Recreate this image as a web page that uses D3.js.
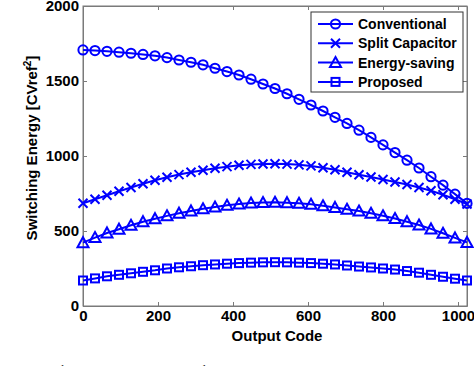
<!DOCTYPE html>
<html><head><meta charset="utf-8">
<script src="https://cdn.jsdelivr.net/npm/d3@7"></script>
<style>body{margin:0;background:#fff}svg{display:block}</style>
</head><body>
<svg id="c" width="474" height="366"></svg>
<script>
const codes = d3.range(0, 1025, 32);
const conventional = [1707,1703,1698,1692,1685,1677,1668,1656,1640,1625,1608,1585,1563,1540,1512,1480,1450,1415,1378,1340,1300,1258,1217,1172,1124,1074,1023,972,920,862,806,746,684];
const splitCap = [685,712,738,765,790,815,838,858,876,892,905,918,929,938,944,947,948,946,941,934,922,908,892,875,860,843,827,810,790,768,742,712,680];
const energySaving = [422,456,487,512,538,562,582,601,619,634,648,660,671,680,686,690,691,689,685,678,668,657,645,633,618,601,583,562,540,514,485,454,424];
const proposed = [170,184,198,208,218,228,238,250,258,265,272,277,282,286,289,291,292,291,289,286,282,277,270,263,257,250,243,233,222,208,195,182,170];
const seriesNames = ["Conventional","Split Capacitor","Energy-saving","Proposed"];
const seriesMarkers = ["circle","x","triangle","square"];
const xTicks = [0,200,400,600,800,1000];
const yTicks = [0,500,1000,1500,2000];
const allSeries = [conventional, splitCap, energySaving, proposed];

const svg = d3.select("#c");
const L = 83, R = 467, T = 6, B = 306;
const x = d3.scaleLinear().domain([0,1024]).range([L,R]);
const y = d3.scaleLinear().domain([0,2000]).range([B,T]);
const blue = "#0000ff";
const axisCol = "#7a7a7a";
const font = "Arial, 'Liberation Sans', sans-serif";

// box
svg.append("rect").attr("x",L).attr("y",T).attr("width",R-L).attr("height",B-T)
  .attr("fill","none").attr("stroke",axisCol).attr("stroke-width",1);

// axes
const fmt = d3.format("d");
const xa = svg.append("g").attr("transform",`translate(0,${B})`)
  .call(d3.axisBottom(x).tickValues(xTicks).tickFormat(fmt).tickSizeInner(-4).tickSizeOuter(0).tickPadding(6));
const ya = svg.append("g").attr("transform",`translate(${L},0)`)
  .call(d3.axisLeft(y).tickValues(yTicks).tickFormat(fmt).tickSizeInner(-4).tickSizeOuter(0).tickPadding(4));
const xt = svg.append("g").attr("transform",`translate(0,${T})`)
  .call(d3.axisTop(x).tickValues(xTicks).tickSizeInner(-4).tickSizeOuter(0).tickFormat(""));
const yr = svg.append("g").attr("transform",`translate(${R},0)`)
  .call(d3.axisRight(y).tickValues(yTicks).tickSizeInner(-4).tickSizeOuter(0).tickFormat(""));
[xa,ya,xt,yr].forEach(g=>{
  g.select(".domain").attr("stroke",axisCol);
  g.selectAll(".tick line").attr("stroke",axisCol);
  g.selectAll("text").attr("fill","#000").style("font-family",font).style("font-weight","bold").style("font-size","15px");
});
xa.selectAll("text").attr("dy","0.6em");
ya.selectAll("text").attr("dy","0.3em");

// marker drawer
function drawMarker(g, type, cx, cy) {
  const s = {fill:"none", stroke:blue, "stroke-width":2};
  let el;
  if (type==="circle") el = g.append("circle").attr("cx",cx).attr("cy",cy).attr("r",4.6);
  else if (type==="square") el = g.append("rect").attr("x",cx-4).attr("y",cy-4).attr("width",8).attr("height",8);
  else if (type==="triangle") el = g.append("path").attr("d",`M${cx},${cy-5.5}L${cx+5.5},${cy+4.5}L${cx-5.5},${cy+4.5}Z`);
  else el = g.append("path").attr("d",`M${cx-4.5},${cy-4.5}L${cx+4.5},${cy+4.5}M${cx-4.5},${cy+4.5}L${cx+4.5},${cy-4.5}`);
  Object.entries(s).forEach(([k,v])=>el.attr(k,v));
}

const line = d3.line().x((d,i)=>x(codes[i])).y(d=>y(d));
allSeries.forEach((vals, si) => {
  const g = svg.append("g");
  g.append("path").datum(vals).attr("d",line).attr("fill","none").attr("stroke",blue).attr("stroke-width",2);
  vals.forEach((v,i)=>drawMarker(g, seriesMarkers[si], x(codes[i]), y(v)));
});

// legend
const lg = svg.append("g");
lg.append("rect").attr("x",311).attr("y",12).attr("width",152).attr("height",80)
  .attr("fill","#fff").attr("stroke","#333").attr("stroke-width",1);
seriesNames.forEach((n,i)=>{
  const yy = 24 + i*19.3;
  lg.append("line").attr("x1",318).attr("x2",353).attr("y1",yy).attr("y2",yy).attr("stroke",blue).attr("stroke-width",2);
  drawMarker(lg, seriesMarkers[i], 335.5, yy);
  lg.append("text").attr("x",358).attr("y",yy).attr("dy","0.36em").text(n)
    .style("font-family",font).style("font-weight","bold").style("font-size","14px");
});

// labels
svg.append("text").attr("x",277).attr("y",341).attr("text-anchor","middle").text("Output Code")
  .style("font-family",font).style("font-weight","bold").style("font-size","15px");
const yl = svg.append("text").attr("transform",`translate(37,148) rotate(-90)`).attr("text-anchor","middle")
  .style("font-family",font).style("font-weight","bold").style("font-size","15px");
yl.append("tspan").text("Switching Energy [CVref");
yl.append("tspan").attr("dy","-6").style("font-size","10px").text("2");
yl.append("tspan").attr("dy","6").text("]");

// caption (cut off at bottom)
svg.append("text").attr("x",0).attr("y",374).text("Fig. 6.   Switching energy versus output code.")
  .style("font-family","'Liberation Serif', 'Times New Roman', serif").style("font-size","12px").attr("fill","#222");
</script>
</body></html>
